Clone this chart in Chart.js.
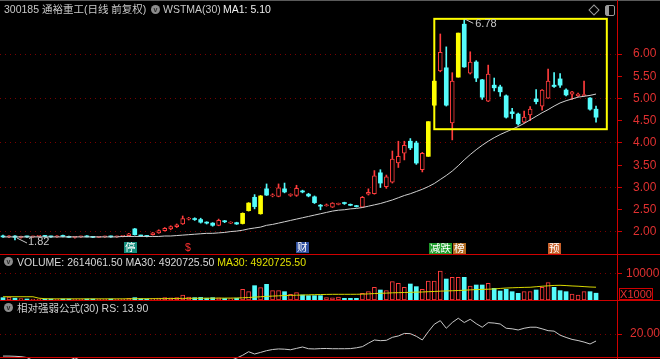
<!DOCTYPE html>
<html><head><meta charset="utf-8">
<title>300185 通裕重工</title>
<script src="https://cdn.jsdelivr.net/npm/chart.js@4.4.1/dist/chart.umd.min.js"></script>
<style>
html,body{margin:0;padding:0;background:#000;}
#wrap{position:relative;width:660px;height:359px;background:#000;overflow:hidden;font-family:"Liberation Sans","Noto Sans CJK SC",sans-serif;}
#wrap canvas{position:absolute;left:0;}
.t{position:absolute;white-space:nowrap;font-size:10.5px;line-height:12px;color:#c8c8c8;}
.ln{position:absolute;background:#d00000;}
.ic{position:absolute;width:9px;height:9px;border-radius:50%;background:#8c8c8c;color:#2a2a2a;font-size:7px;line-height:9px;text-align:center;font-weight:bold;}
.mk{position:absolute;font-size:10.5px;line-height:11px;height:11px;color:#fff;padding:0 1px;white-space:nowrap;}
</style></head><body>
<div id="wrap">
 <canvas id="cMain" width="660" height="254" style="top:0px"></canvas>
 <canvas id="cVol" width="660" height="46" style="top:254px"></canvas>
 <canvas id="cRs" width="660" height="59" style="top:300px"></canvas>

 <div class="ln" style="left:0;top:0;width:660px;height:1px;background:#5a5a5a"></div>
 <div class="ln" style="left:0;top:254px;width:660px;height:1px"></div>
 <div class="ln" style="left:0;top:300px;width:660px;height:1px"></div>
 <div class="ln" style="left:0;top:357px;width:660px;height:1px"></div>
 <div class="ln" style="left:617px;top:0;width:1px;height:359px"></div>

 <div class="t" style="left:4px;top:3px">300185 通裕重工(日线 前复权)</div>
 <div class="ic" style="left:151px;top:5px">v</div>
 <div class="t" style="left:163px;top:3px">WSTMA(30)</div>
 <div class="t" style="left:223px;top:3px;color:#eeeeee">MA1: 5.10</div>
 <div style="position:absolute;left:590px;top:6px;width:6px;height:6px;border:1px solid #9a9a9a;transform:rotate(45deg)"></div>
 <div style="position:absolute;left:605px;top:5px;width:8px;height:9px;border:1px solid #9a9a9a;border-radius:2px"><div style="position:absolute;left:0;top:0;width:3px;height:9px;background:#9a9a9a"></div></div>

 <div class="ic" style="left:4px;top:257px">v</div>
 <div class="t" style="left:17px;top:256px;color:#d8d8d8">VOLUME: 2614061.50 MA30: 4920725.50 <span style="color:#e0e000">MA30: 4920725.50</span></div>
 <div class="ic" style="left:4px;top:303px">v</div>
 <div class="t" style="left:17px;top:302px;color:#d0d0d0">相对强弱公式(30) RS: 13.90</div>

 <div class="mk" style="left:124px;top:242px;background:#158c7c">停</div>
 <div class="mk" style="left:184px;top:242px;color:#ff3030">$</div>
 <div class="mk" style="left:296px;top:242px;background:#2f4f9f">财</div>
 <div class="mk" style="left:429px;top:243px;background:#1e9a2a">减跌</div>
 <div class="mk" style="left:453px;top:243px;background:#b06a20">榜</div>
 <div class="mk" style="left:548px;top:243px;background:#c8602a">预</div>

 <div style="position:absolute;left:619px;top:288px;width:32px;height:10px;border:1px solid #d00000;color:#e83030;font-size:11px;line-height:10px;text-align:center">X1000</div>
</div>
<script>
// ---------- data ----------
const opens = [1.91,1.89,1.91,1.88,1.90,1.89,1.90,1.91,1.90,1.89,
 1.91,1.90,1.88,1.89,1.90,1.89,1.88,1.89,1.90,1.89,
 1.90,1.92,2.07,1.92,1.91,1.94,1.98,2.03,2.07,2.12,
 2.18,2.29,2.30,2.28,2.21,2.20,2.15,2.24,2.20,2.21,
 2.19,2.48,2.78,2.41,2.97,2.81,2.80,2.97,2.82,2.82,
 2.92,2.85,2.79,2.60,2.59,2.56,2.62,2.65,2.61,2.59,
 2.56,2.85,2.86,3.33,3.02,3.12,3.55,3.77,4.04,4.00,
 3.40,3.70,4.85,5.62,5.69,4.45,5.48,6.67,5.57,5.82,
 5.42,4.94,5.30,5.26,5.06,4.70,4.65,4.47,4.63,4.99,
 4.83,5.01,5.30,5.44,5.19,5.10,5.06,5.06,5.01,4.76];
const highs = [1.93,1.92,1.92,1.91,1.91,1.91,1.92,1.92,1.91,1.92,
 1.93,1.91,1.90,1.91,1.92,1.90,1.90,1.91,1.91,1.91,
 1.92,1.97,2.08,1.93,1.92,1.99,2.05,2.10,2.14,2.18,
 2.36,2.33,2.32,2.31,2.23,2.21,2.29,2.26,2.23,2.22,
 2.43,2.66,2.84,2.82,3.08,2.86,3.08,3.10,2.86,3.05,
 2.94,2.87,2.81,2.62,2.63,2.66,2.65,2.67,2.63,2.60,
 2.80,2.97,3.38,3.40,3.28,3.82,4.04,4.04,4.10,4.04,
 3.79,4.48,5.39,6.45,6.16,5.58,6.47,6.78,6.05,5.85,
 5.43,5.75,5.46,5.30,5.08,4.78,4.67,4.72,4.82,5.20,
 5.20,5.66,5.58,5.56,5.22,5.16,5.12,5.39,5.02,4.83];
const lows = [1.88,1.87,1.82,1.86,1.88,1.88,1.89,1.89,1.88,1.88,
 1.89,1.88,1.86,1.88,1.89,1.87,1.87,1.88,1.88,1.88,
 1.89,1.91,1.93,1.90,1.89,1.93,1.97,2.02,2.05,2.10,
 2.17,2.27,2.26,2.20,2.18,2.13,2.14,2.21,2.19,2.17,
 2.18,2.47,2.52,2.40,2.82,2.79,2.79,2.88,2.80,2.80,
 2.88,2.79,2.64,2.50,2.58,2.55,2.61,2.62,2.59,2.56,
 2.55,2.83,2.85,3.00,2.98,3.10,3.45,3.62,3.85,3.52,
 3.35,3.70,4.83,5.60,4.83,4.07,5.48,5.70,5.55,5.38,
 4.98,4.93,5.17,5.05,4.56,4.55,4.40,4.45,4.50,4.88,
 4.74,5.00,5.25,5.25,5.06,4.98,5.04,5.05,4.74,4.47];
const closes = [1.89,1.91,1.88,1.90,1.89,1.90,1.91,1.90,1.89,1.91,
 1.90,1.88,1.89,1.90,1.89,1.88,1.89,1.90,1.89,1.90,
 1.91,1.96,1.94,1.91,1.90,1.98,2.03,2.08,2.12,2.16,
 2.30,2.31,2.28,2.22,2.20,2.15,2.26,2.23,2.21,2.18,
 2.42,2.65,2.57,2.81,2.83,2.83,2.99,2.90,2.85,2.98,
 2.90,2.81,2.66,2.58,2.61,2.65,2.64,2.64,2.60,2.57,
 2.78,2.89,3.26,3.10,3.24,3.64,3.70,3.95,3.89,3.55,
 3.77,4.48,5.39,6.04,4.85,5.39,6.47,5.71,5.82,5.46,
 5.03,5.55,5.24,5.15,4.58,4.66,4.43,4.58,4.76,4.93,
 5.19,5.39,5.27,5.30,5.08,5.15,5.10,5.09,4.76,4.58];
const yellowDays = [40,41,43,71,72,76];
const wstma = [1.89,1.89,1.89,1.89,1.89,1.89,1.89,1.89,1.89,1.89,
 1.89,1.89,1.89,1.89,1.89,1.89,1.89,1.89,1.89,1.89,
 1.90,1.90,1.90,1.90,1.90,1.90,1.90,1.91,1.91,1.92,
 1.93,1.94,1.95,1.96,1.97,1.97,1.98,1.99,2.01,2.02,
 2.04,2.07,2.09,2.11,2.15,2.17,2.20,2.23,2.26,2.29,
 2.32,2.35,2.38,2.41,2.44,2.47,2.49,2.50,2.52,2.53,
 2.55,2.58,2.61,2.64,2.68,2.72,2.77,2.82,2.86,2.91,
 2.96,3.02,3.09,3.18,3.27,3.37,3.49,3.62,3.74,3.85,
 3.95,4.04,4.12,4.19,4.25,4.31,4.37,4.44,4.52,4.60,
 4.68,4.75,4.83,4.90,4.95,4.99,5.03,5.05,5.07,5.10];
// volume in thousands of shares
const volumes = [900,1100,700,500,400,350,300,300,250,350,
 300,250,300,250,300,250,200,250,300,250,
 300,600,900,500,400,500,700,900,800,900,
 1920,1150,900,1000,700,900,800,600,500,700,
 4100,3200,5510,4740,6030,3590,3590,3200,2180,2820,
 1920,1660,1660,1660,900,880,1150,640,640,640,
 2560,3200,4870,3850,3590,7050,6410,4870,6150,5130,
 4100,7300,7300,11150,8070,8720,8720,8720,5380,5770,
 5770,6410,4490,3460,4100,3200,2560,3200,3200,3850,
 4870,6670,4870,3590,3200,2300,1920,3200,3200,2614.06];
const volMa30 = [1250,1250,1250,1250,1250,1250,700,500,450,450,
 450,450,450,450,450,450,450,450,450,450,
 450,470,490,500,500,510,520,540,560,580,
 620,640,660,680,690,700,720,730,740,760,
 850,950,1100,1250,1400,1500,1600,1700,1780,1850,
 1920,1980,2050,2100,2150,2190,2190,2190,2190,2200,
 2250,2350,2480,2580,2650,2760,2820,2880,2950,3020,
 3080,3200,3280,3400,3480,3560,3640,3760,3900,4000,
 4080,4150,4260,4450,4600,4700,4780,4850,4900,5100,
 5300,5450,5600,5650,5550,5400,5300,5150,5000,4920.73];
const rs = [0.8,0.8,0.6,0.3,-0.5,-3,-3,-3,-3,-3,
 -3,-3,-0.8,-3,-3,-3,-3,-3,-3,-3,
 -3,-3,-3,-3,-3,-3,-3,-3,-3,-3,
 -3,-3,-3,-3,-3,-3,-3,-3,-3,-1.0,
 1.5,4.6,2.6,4.0,5.5,6.5,7.0,6.8,6.3,7.5,
 8.7,7.2,7.0,7.3,7.4,7.2,7.2,7.2,7.3,8.0,
 9.0,12.0,14.8,14.2,14.5,17.1,18.3,20.5,20.3,18.0,
 14.8,22.0,28.5,31.6,25.0,30.0,33.7,30.0,32.8,29.0,
 25.9,29.9,29.5,28.7,25.0,24.5,23.5,25.0,25.9,25.9,
 24.5,22.9,22.5,19.0,17.0,15.3,14.3,13.0,11.3,13.9];
const priceTicks = [2.0,2.5,3.0,3.5,4.0,4.5,5.0,5.5,6.0];
const priceGrid = [2,3,4,5,6];
const volTicks = [10000];
const rsTicks = [20];
const SLOTS = 103;
const labels = Array.from({length: SLOTS}, (_, i) => String(i + 1));
// annotation box (index range / price range)
const BOX = {i0: 72, i1: 100.8, top: 6.79, bottom: 4.31};

// ---------- styling ----------
const UP = '#ff3c3c', DOWN = '#54fcfc', YEL = '#ffff00';
const isYel = i => yellowDays.includes(i);
const isUp = i => closes[i] >= opens[i];
const candleColor = opens.map((o, i) => isYel(i) ? YEL : (isUp(i) ? UP : DOWN));
const bodyFill = opens.map((o, i) => isYel(i) ? YEL : (isUp(i) ? '#000000' : DOWN));
const bodyBorder = opens.map((o, i) => (!isYel(i) && isUp(i)) ? 1 : 0);
const volColor = opens.map((o, i) => (isYel(i) || isUp(i)) ? UP : DOWN);
const volFill = opens.map((o, i) => (isYel(i) || isUp(i)) ? '#000000' : DOWN);
const volBorder = opens.map((o, i) => (isYel(i) || isUp(i)) ? 1 : 0);

Chart.defaults.font.family = '"Liberation Sans", Arial, sans-serif';

function makeOpts(yMin, yMax, tickVals, gridVals, fmt, pad) {
  return {
    responsive: false, animation: false, devicePixelRatio: 1,
    layout: {padding: 0},
    plugins: {legend: {display: false}, tooltip: {enabled: false}},
    scales: {
      x: {display: false, offset: true, grid: {display: false}},
      y: {
        position: 'right', min: yMin, max: yMax,
        afterBuildTicks: s => { s.ticks = tickVals.map(v => ({value: v})); },
        afterFit: s => { s.width = 43; s.paddingTop = 0; s.paddingBottom = 0; },
        ticks: {color: '#e03030', font: {size: 12}, padding: pad, callback: fmt},
        grid: {
          color: c => (c.tick && gridVals.includes(c.tick.value)) ? '#7a0000' : 'rgba(0,0,0,0)',
          tickColor: '#d00000', tickLength: 5, drawTicks: true, lineWidth: 1
        },
        border: {display: false, dash: [1, 4]}
      }
    }
  };
}

const annot = {
  id: 'annot',
  afterDatasetsDraw(chart) {
    const {ctx} = chart;
    const x = chart.scales.x, y = chart.scales.y;
    ctx.save();
    // yellow box
    const bx0 = x.getPixelForValue(BOX.i0), bx1 = x.getPixelForValue(BOX.i1);
    const by0 = y.getPixelForValue(BOX.top), by1 = y.getPixelForValue(BOX.bottom);
    ctx.strokeStyle = YEL; ctx.lineWidth = 2;
    ctx.strokeRect(bx0, by0, bx1 - bx0, by1 - by0);
    // max / min labels
    const iMax = highs.indexOf(Math.max(...highs));
    const iMin = lows.indexOf(Math.min(...lows));
    ctx.strokeStyle = '#c8c8c8'; ctx.fillStyle = '#c8c8c8'; ctx.lineWidth = 1;
    ctx.font = '11px "Liberation Sans", Arial, sans-serif';
    ctx.textBaseline = 'middle'; ctx.textAlign = 'left';
    let px = x.getPixelForValue(iMax), py = y.getPixelForValue(highs[iMax]);
    ctx.beginPath(); ctx.moveTo(px + 1, py); ctx.lineTo(px + 9, py + 4); ctx.stroke();
    ctx.fillText(highs[iMax].toFixed(2), px + 11, py + 5);
    px = x.getPixelForValue(iMin); py = y.getPixelForValue(lows[iMin]);
    ctx.beginPath(); ctx.moveTo(px + 2, py - 2); ctx.lineTo(px + 12, py + 3); ctx.stroke();
    ctx.fillText(lows[iMin].toFixed(2), px + 13, py + 2);
    ctx.restore();
  }
};

// ---------- main price chart ----------
new Chart(document.getElementById('cMain'), {
  type: 'bar',
  data: {labels, datasets: [
    {type: 'line', data: wstma, borderColor: '#d0d0d0', borderWidth: 1, pointRadius: 0, tension: 0, order: 0},
    {data: opens.map((o, i) => [o, closes[i]]), backgroundColor: bodyFill, borderColor: candleColor,
     borderWidth: bodyBorder, borderSkipped: false, barThickness: 4, minBarLength: 1, grouped: false, order: 1},
    {data: lows.map((l, i) => [l, highs[i]]), backgroundColor: candleColor, borderWidth: 0,
     barThickness: 1, minBarLength: 1, grouped: false, order: 2}
  ]},
  options: makeOpts(1.5056, 7.2135, priceTicks, priceGrid, v => Number(v).toFixed(2), 11),
  plugins: [annot]
});

// ---------- volume chart ----------
new Chart(document.getElementById('cVol'), {
  type: 'bar',
  data: {labels, datasets: [
    {type: 'line', data: volMa30, borderColor: '#d8d800', borderWidth: 1, pointRadius: 0, tension: 0, order: 0},
    {data: volumes, backgroundColor: volFill, borderColor: volColor, borderWidth: volBorder,
     borderSkipped: false, barThickness: 4, minBarLength: 1, grouped: false, order: 1}
  ]},
  options: makeOpts(0, 17692, volTicks, volTicks, v => String(v), 4)
});

// ---------- RS chart ----------
new Chart(document.getElementById('cRs'), {
  type: 'line',
  data: {labels, datasets: [
    {data: rs, borderColor: '#c8c8c8', borderWidth: 1, pointRadius: 0, tension: 0}
  ]},
  options: makeOpts(-1.74, 49.57, rsTicks, rsTicks, v => Number(v).toFixed(2), 8)
});
</script>
</body></html>
